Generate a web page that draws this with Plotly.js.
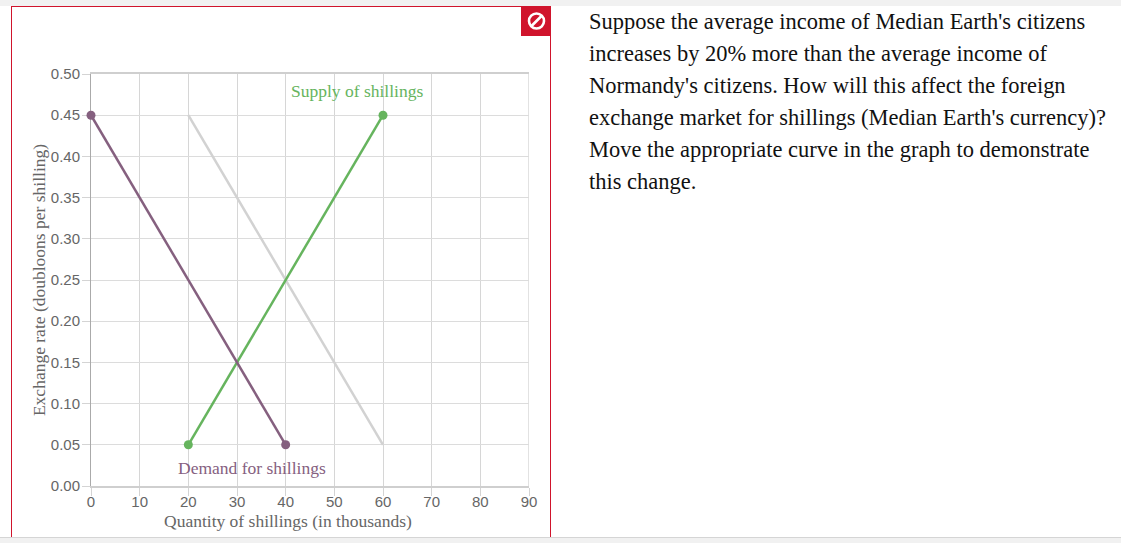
<!DOCTYPE html>
<html>
<head>
<meta charset="utf-8">
<script src="https://cdn.plot.ly/plotly-3.0.1.min.js"></script>
<style>
html,body{margin:0;padding:0;background:#fff;overflow:hidden}
#chart{position:absolute;left:0;top:0;width:1121px;height:543px}
.bar{position:absolute;background:#f1f1f1}
.red{position:absolute;background:#d0142c}
#question{position:absolute;left:589px;top:6px;width:532px;font:22.48px/32px "Liberation Serif",serif;color:#111}
#icon{position:absolute;left:521px;top:6px;width:30px;height:30px}
</style>
</head>
<body>
<div id="chart"></div>
<div class="bar" style="left:0;top:0;width:1121px;height:6px"></div>
<div class="bar" style="left:0;top:537px;width:1121px;height:6px;border-top:1px solid #d5d5d5;box-sizing:border-box"></div>
<div class="red" style="left:11px;top:6px;width:540px;height:1px"></div>
<div class="red" style="left:11px;top:6px;width:1px;height:531px"></div>
<div class="red" style="left:550px;top:6px;width:1px;height:531px"></div>
<svg id="icon" viewBox="0 0 30 30"><rect width="30" height="30" fill="#d0142c"/><circle cx="15.5" cy="15" r="7.5" fill="none" stroke="#fff" stroke-width="2.6"/><line x1="10.5" y1="20" x2="20.5" y2="10" stroke="#fff" stroke-width="2.6"/></svg>
<div id="question">Suppose the average income of Median Earth's citizens increases by 20% more than the average income of Normandy's citizens. How will this affect the foreign exchange market for shillings (Median Earth's currency)? Move the appropriate curve in the graph to demonstrate this change.</div>
<script>
const originalDemandQty = [20, 60];
const originalDemandRate = [0.45, 0.05];
const demandQty = [0, 40];
const demandRate = [0.45, 0.05];
const supplyQty = [20, 60];
const supplyRate = [0.05, 0.45];
const xTicks = [0,10,20,30,40,50,60,70,80,90];
const yTicks = [0,0.05,0.10,0.15,0.20,0.25,0.30,0.35,0.40,0.45,0.50];
const yTickLabels = ["0.00","0.05","0.10","0.15","0.20","0.25","0.30","0.35","0.40","0.45","0.50"];
const demandLabel = "Demand for shillings";
const supplyLabel = "Supply of shillings";
const xTitle = "Quantity of shillings (in thousands)";
const yTitle = "Exchange rate (doubloons per shilling)";

const serif = '"Liberation Serif", serif';
const sans = '"Liberation Sans", Arial, sans-serif';
const traces = [
  {x: originalDemandQty, y: originalDemandRate, mode: 'lines', line: {color: '#d2d2d2', width: 2.5}, hoverinfo: 'skip'},
  {x: supplyQty, y: supplyRate, mode: 'lines+markers', line: {color: '#66b45e', width: 2.5}, marker: {color: '#66b45e', size: 9}, cliponaxis: false},
  {x: demandQty, y: demandRate, mode: 'lines+markers', line: {color: '#85607f', width: 2.5}, marker: {color: '#85607f', size: 9}, cliponaxis: false}
];
const layout = {
  width: 1121, height: 543, showlegend: false,
  paper_bgcolor: 'rgba(0,0,0,0)', plot_bgcolor: 'rgba(0,0,0,0)',
  margin: {l: 91, r: 592, t: 74, b: 57, pad: 0},
  xaxis: {
    range: [0, 90], tickmode: 'array', tickvals: xTicks, ticktext: xTicks.map(String),
    showgrid: true, gridcolor: '#d6d6d6', gridwidth: 1, zeroline: false,
    showline: true, mirror: true, linecolor: '#cfcfcf', linewidth: 2, layer: 'below traces',
    ticks: 'outside', ticklen: 8, tickcolor: '#d4d4d4', tickwidth: 1, ticklabelstandoff: -7,
    tickfont: {family: sans, size: 15, color: '#666'}
  },
  yaxis: {
    range: [0, 0.5], tickmode: 'array', tickvals: yTicks, ticktext: yTickLabels,
    showgrid: true, gridcolor: '#dcdcdc', gridwidth: 1, zeroline: false,
    showline: true, linecolor: '#aaa', linewidth: 1, layer: 'below traces',
    ticks: 'outside', ticklen: 8, tickcolor: '#d4d4d4', tickwidth: 1, ticklabelstandoff: -1,
    tickfont: {family: sans, size: 15, color: '#666'},
    title: {text: yTitle, font: {family: serif, size: 17.5, color: '#666'}, standoff: 0}
  },
  shapes: [
    {type: 'line', xref: 'x', yref: 'paper', x0: 90, x1: 90, y0: 0, y1: 1, line: {color: '#e2e2e2', width: 2}, layer: 'below'}
  ],
  annotations: [
    {x: 33, y: 0.022, xref: 'x', yref: 'y', text: demandLabel, showarrow: false, font: {family: serif, size: 17.5, color: '#85607f'}},
    {x: 54.6, y: 0.479, xref: 'x', yref: 'y', text: supplyLabel, showarrow: false, font: {family: serif, size: 17.5, color: '#66b45e'}},
    {x: 40.5, y: 0, xref: 'x', yref: 'paper', yanchor: 'middle', yshift: -35, text: xTitle, showarrow: false, font: {family: serif, size: 17.5, color: '#666'}}
  ]
};
Plotly.newPlot('chart', traces, layout, {displayModeBar: false, staticPlot: true});
</script>
</body>
</html>
